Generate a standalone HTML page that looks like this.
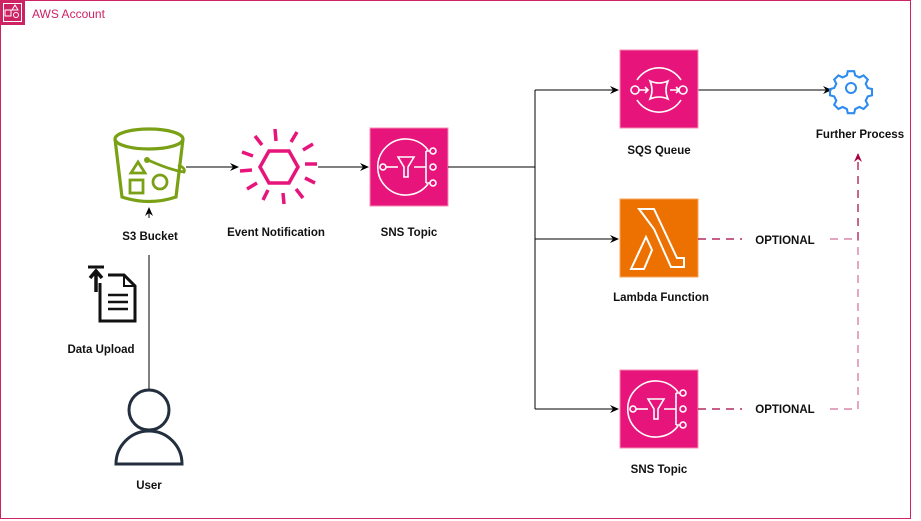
<!DOCTYPE html>
<html><head><meta charset="utf-8">
<style>
html,body{margin:0;padding:0;background:#fff;}
svg{display:block;}
text{font-family:"Liberation Sans",Arial,sans-serif;}
.lbl{font-size:11.5px;font-weight:bold;fill:#111;text-anchor:middle;}
</style></head><body>
<svg width="921" height="521" viewBox="0 0 921 521" xmlns="http://www.w3.org/2000/svg">
<defs>
<marker id="ar" markerWidth="10" markerHeight="10" refX="8" refY="5" orient="auto" markerUnits="userSpaceOnUse">
<path d="M0,1 L9,5 L0,9 L3,5 Z" fill="#000"/></marker>
<marker id="ard" markerWidth="10" markerHeight="10" refX="8" refY="5" orient="auto" markerUnits="userSpaceOnUse">
<path d="M0,1 L9,5 L0,9 L3,5 Z" fill="#A50040"/></marker>
</defs>
<rect x="0.5" y="0.5" width="910" height="518" fill="none" stroke="#CD2264" stroke-width="1"/>
<rect x="0" y="0" width="25" height="25" fill="#CD2264"/>
<g fill="none" stroke="#fff" stroke-width="1">
<rect x="5" y="10" width="6" height="6"/><path d="M15,5 l3,5 h-6z"/><circle cx="16" cy="15" r="2.5"/><rect x="3.5" y="3.5" width="18" height="18"/></g>
<text x="32" y="18" font-size="12" fill="#CD2264">AWS Account</text>

<!-- S3 bucket -->
<g fill="none" stroke="#7AA116" stroke-width="3.2">
<ellipse cx="149" cy="139" rx="34" ry="10"/>
<path d="M115,139 L122,197 Q149,206 176,197 L183,139"/>
<path d="M148,160 Q170,170 184,172 Q186,168 178,165" stroke-width="2.8"/>
<path d="M131,173 l7,-11 l7,11z" stroke-width="2.8"/>
<rect x="130" y="180" width="13" height="13" stroke-width="2.8"/>
<circle cx="160" cy="182" r="7" stroke-width="2.8"/>
</g>
<circle cx="147" cy="160" r="3" fill="#7AA116"/>
<text class="lbl" x="150" y="240">S3 Bucket</text>

<!-- Event notification -->
<g stroke="#E7157B" stroke-width="3.5" fill="none">
<polygon points="269,151 289,151 298,167 289,183 269,183 260,167"/>
<g>
<line x1="275" y1="129" x2="276" y2="141"/><line x1="297" y1="132" x2="291" y2="142"/>
<line x1="313" y1="144" x2="303" y2="150"/><line x1="317" y1="164" x2="305" y2="164"/>
<line x1="315" y1="183" x2="305" y2="178"/><line x1="303" y1="198" x2="296" y2="189"/>
<line x1="284" y1="204" x2="283" y2="193"/><line x1="263" y1="200" x2="268" y2="190"/>
<line x1="247" y1="189" x2="257" y2="183"/><line x1="240" y1="171" x2="252" y2="170"/>
<line x1="242" y1="152" x2="253" y2="156"/><line x1="255" y1="136" x2="262" y2="145"/>
</g></g>
<text class="lbl" x="276" y="236">Event Notification</text>

<!-- SNS topic 1 -->
<g id="sns">
<rect x="370" y="128" width="78" height="78" fill="#E7157B" stroke="#F58BB5" stroke-width="1"/>
<g fill="none" stroke="#fff" stroke-width="1.6">
<path d="M428,150 A28,28 0 1 0 428,184"/>
<circle cx="383" cy="167" r="3" fill="#E7157B"/>
<path d="M386,167 h12"/>
<path d="M398,157 h16 l-6,10 v10 h-4 v-10z"/>
<path d="M414,167 h12 M426,151 v32 M426,151 h4 M426,183 h4"/>
<circle cx="433" cy="151" r="3"/><circle cx="433" cy="167" r="3"/><circle cx="433" cy="183" r="3"/>
</g></g>
<text class="lbl" x="409" y="236">SNS Topic</text>

<g stroke="#000" stroke-width="1" fill="none">
<line x1="186" y1="167" x2="238" y2="167" marker-end="url(#ar)"/>
<line x1="318" y1="167" x2="368" y2="167" marker-end="url(#ar)"/>
<polyline points="448,167 535,167"/>
<polyline points="535,90 535,409"/>
<line x1="535" y1="90" x2="618" y2="90" marker-end="url(#ar)"/>
<line x1="535" y1="239" x2="618" y2="239" marker-end="url(#ar)"/>
<line x1="535" y1="409" x2="618" y2="409" marker-end="url(#ar)"/>
<line x1="698" y1="90" x2="831" y2="90" marker-end="url(#ar)"/>
<line x1="149" y1="255" x2="149" y2="389"/>
<line x1="149" y1="218" x2="149" y2="208" marker-end="url(#ar)"/>
</g>

<!-- SQS -->
<rect x="620" y="50" width="78" height="78" fill="#E7157B" stroke="#F58BB5" stroke-width="1"/>
<g fill="none" stroke="#fff" stroke-width="1.6">
<path d="M637,80 A26,26 0 0 1 681,80 M637,100 A26,26 0 0 0 681,100"/>
<circle cx="635" cy="90" r="4"/><circle cx="683" cy="90" r="4"/>
<path d="M639,90 h8 M645,87 l3,3 l-3,3 M670,90 h8 M676,87 l3,3 l-3,3"/>
<path d="M650,81 Q659,85 668,81 Q664,90 668,99 Q659,95 650,99 Q654,90 650,81z"/>
</g>
<text class="lbl" x="659" y="154">SQS Queue</text>

<!-- Lambda -->
<rect x="620" y="199" width="78" height="78" fill="#ED7100" stroke="#F7A35C" stroke-width="1"/>
<g fill="none" stroke="#fff" stroke-width="2">
<path d="M639,209 h15 l23,49 h7 v9 h-13 l-17,-38 z"/>
<path d="M631,269 l15,-32 l6,13 l-8,19 z"/>
</g>
<text class="lbl" x="661" y="301">Lambda Function</text>

<use href="#sns" transform="translate(250,242)"/>
<text class="lbl" x="659" y="473">SNS Topic</text>

<!-- gear -->
<g transform="translate(851,88)" fill="none" stroke="#2E8BF0" stroke-width="2">
<path d="M-3,-16 h6 l1,4 l4,2 l4,-2 l4,4 l-2,4 l2,4 l4,1 v6 l-4,1 l-2,4 l2,4 l-4,4 l-4,-2 l-4,2 l-1,4 h-6 l-1,-4 l-4,-2 l-4,2 l-4,-4 l2,-4 l-2,-4 l-4,-1 v-6 l4,-1 l2,-4 l-2,-4 l4,-4 l4,2 l4,-2z" transform="scale(1.05)"/>
<circle cx="0" cy="0" r="5"/>
</g>
<text class="lbl" x="860" y="138">Further Process</text>

<g fill="none" stroke-width="1.2" stroke-dasharray="8,6">
<line x1="698" y1="239" x2="742" y2="239" stroke="#A50040"/>
<line x1="830" y1="239" x2="858" y2="239" stroke="#D36F9C"/>
<line x1="698" y1="409" x2="742" y2="409" stroke="#A50040"/>
<line x1="830" y1="409" x2="858" y2="409" stroke="#D36F9C"/>
<line x1="858" y1="409" x2="858" y2="240" stroke="#D36F9C"/>
<line x1="858" y1="240" x2="858" y2="154" stroke="#A50040" marker-end="url(#ard)"/>
</g>
<text class="lbl" x="785" y="244">OPTIONAL</text>
<text class="lbl" x="785" y="413">OPTIONAL</text>

<!-- Data upload -->
<g fill="none" stroke="#111" stroke-width="3">
<path d="M100,283 v38 h35 v-35 l-11,-11 h-16"/>
<path d="M124,275 v11 h11" stroke-width="2"/>
<path d="M108,295 h20 M108,302 h20 M108,309 h20" stroke-width="2.5"/>
<path d="M88,267 h16" stroke-width="3"/>
<path d="M96,292 v-21 M90,278 l6,-7 l6,7" stroke-width="3.5"/>
</g>
<text class="lbl" x="101" y="353">Data Upload</text>

<g fill="none" stroke="#232F3E" stroke-width="3">
<circle cx="149" cy="410" r="20"/>
<path d="M116,464 A33,33 0 0 1 182,464 Z"/>
</g>
<text class="lbl" x="149" y="489">User</text>
</svg>
</body></html>
